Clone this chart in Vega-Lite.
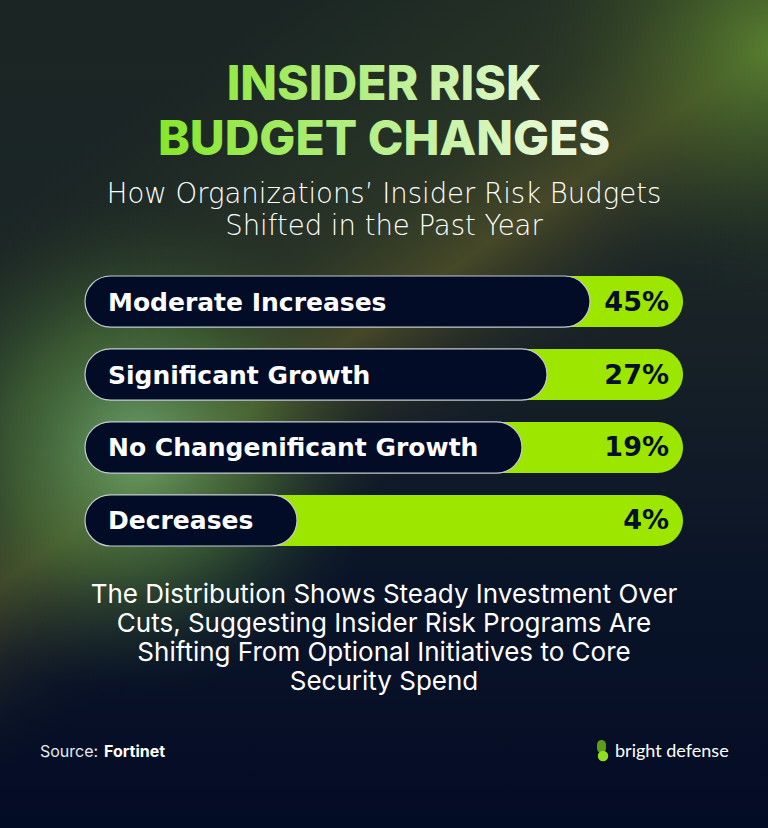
{
  "$schema": "https://vega.github.io/schema/vega-lite/v6.json",
  "width": 768,
  "height": 828,
  "autosize": {"type": "none"},
  "padding": 0,
  "background": "#030c25",
  "config": {"view": {"stroke": null}},
  "datasets": {
    "budget": [
      {"category": "Moderate Increases", "value": 45},
      {"category": "Significant Growth", "value": 27},
      {"category": "No Changenificant Growth", "value": 19},
      {"category": "Decreases", "value": 4}
    ]
  },
  "layer": [
    {
      "data": {"values": [{}]},
      "mark": {"type": "rect", "fill": {"gradient": "linear", "x1": 0, "y1": 0, "x2": 0, "y2": 1, "stops": [{"offset": 0, "color": "#1b2624"}, {"offset": 0.35, "color": "#1a2426"}, {"offset": 0.7, "color": "#0a1428"}, {"offset": 1, "color": "#030c25"}]}},
      "encoding": {"x": {"value": 0}, "x2": {"value": 768}, "y": {"value": 0}, "y2": {"value": 828}}
    },
    {
      "data": {"values": [{}]},
      "mark": {"type": "rect", "fill": {"gradient": "linear", "x1": 0.3, "y1": 0.05, "x2": 0.72, "y2": 0.7, "stops": [{"offset": 0, "color": "rgba(60,80,40,0)"}, {"offset": 0.35, "color": "rgba(70,80,40,0.35)"}, {"offset": 0.5, "color": "rgba(85,85,40,0.75)"}, {"offset": 0.6, "color": "rgba(70,70,40,0.35)"}, {"offset": 0.75, "color": "rgba(20,30,40,0)"}]}},
      "encoding": {"x": {"value": 0}, "x2": {"value": 768}, "y": {"value": 0}, "y2": {"value": 828}}
    },
    {
      "data": {"values": [{}]},
      "mark": {"type": "rect", "fill": {"gradient": "radial", "x1": 0.2, "y1": 0.54, "r1": 0, "x2": 0.2, "y2": 0.54, "r2": 0.3, "stops": [{"offset": 0, "color": "rgba(115,175,115,0.85)"}, {"offset": 0.5, "color": "rgba(80,130,60,0.5)"}, {"offset": 1, "color": "rgba(40,60,40,0)"}]}},
      "encoding": {"x": {"value": 0}, "x2": {"value": 768}, "y": {"value": 0}, "y2": {"value": 828}}
    },
    {
      "data": {"values": [{}]},
      "mark": {"type": "rect", "fill": {"gradient": "radial", "x1": 0.97, "y1": 0.06, "r1": 0, "x2": 0.97, "y2": 0.06, "r2": 0.3, "stops": [{"offset": 0, "color": "rgba(90,140,50,0.8)"}, {"offset": 0.5, "color": "rgba(70,100,40,0.45)"}, {"offset": 1, "color": "rgba(40,60,40,0)"}]}},
      "encoding": {"x": {"value": 0}, "x2": {"value": 768}, "y": {"value": 0}, "y2": {"value": 828}}
    },
    {
      "data": {"values": [{"line": "INSIDER RISK\nBUDGET CHANGES"}]},
      "mark": {"type": "text", "align": "center", "baseline": "alphabetic", "lineBreak": "\n", "lineHeight": 55, "font": "Inter", "fontWeight": 800, "fontSize": 48, "fill": {"gradient": "linear", "x1": 0, "y1": 0, "x2": 1, "y2": 0, "stops": [{"offset": 0, "color": "#86e628"}, {"offset": 0.45, "color": "#b4ee86"}, {"offset": 1, "color": "#f3fbea"}]}},
      "encoding": {"x": {"value": 384}, "y": {"value": 100}, "text": {"field": "line", "type": "nominal"}}
    },
    {
      "data": {"values": [{"line": "How Organizations’ Insider Risk Budgets\nShifted in the Past Year"}]},
      "mark": {"type": "text", "align": "center", "baseline": "alphabetic", "lineBreak": "\n", "lineHeight": 32, "font": "DejaVu Sans", "fontWeight": 200, "fontSize": 27.5, "color": "#ffffff"},
      "encoding": {"x": {"value": 384}, "y": {"value": 203}, "text": {"field": "line", "type": "nominal"}}
    },
    {
      "data": {"name": "budget"},
      "mark": {"type": "bar", "cornerRadius": 25.5, "color": "#9de600"},
      "encoding": {
        "y": {"field": "category", "type": "nominal", "sort": null, "axis": null, "scale": {"range": [276, 546], "paddingInner": 0.3, "paddingOuter": 0}},
        "x": {"datum": 0, "type": "quantitative", "axis": null, "scale": {"type": "linear", "domain": [0, 4, 19, 27, 45, 100], "range": [85, 297, 522, 547, 590, 683]}},
        "x2": {"datum": 100}
      }
    },
    {
      "data": {"name": "budget"},
      "mark": {"type": "bar", "cornerRadius": 25.5, "color": "#020c27", "stroke": "#c4c9d0", "strokeWidth": 1.2},
      "encoding": {
        "y": {"field": "category", "type": "nominal", "sort": null, "axis": null},
        "x": {"field": "value", "type": "quantitative", "axis": null},
        "x2": {"datum": 0}
      }
    },
    {
      "data": {"name": "budget"},
      "mark": {"type": "text", "align": "left", "baseline": "middle", "dx": 23, "dy": 1, "font": "DejaVu Sans", "fontWeight": "bold", "fontSize": 25, "color": "#ffffff"},
      "encoding": {
        "y": {"field": "category", "type": "nominal", "sort": null, "axis": null},
        "x": {"datum": 0, "type": "quantitative", "axis": null},
        "text": {"field": "category", "type": "nominal"}
      }
    },
    {
      "data": {"name": "budget"},
      "transform": [{"calculate": "datum.value + '%'", "as": "pct"}],
      "mark": {"type": "text", "align": "right", "baseline": "middle", "dx": -14, "dy": 1, "font": "DejaVu Sans", "fontWeight": "bold", "fontSize": 27, "color": "#041029"},
      "encoding": {
        "y": {"field": "category", "type": "nominal", "sort": null, "axis": null},
        "x": {"datum": 100, "type": "quantitative", "axis": null},
        "text": {"field": "pct", "type": "nominal"}
      }
    },
    {
      "data": {"values": [{"line": "The Distribution Shows Steady Investment Over\nCuts, Suggesting Insider Risk Programs Are\nShifting From Optional Initiatives to Core\nSecurity Spend"}]},
      "mark": {"type": "text", "align": "center", "baseline": "alphabetic", "lineBreak": "\n", "lineHeight": 29, "font": "Inter", "fontWeight": 400, "fontSize": 26, "color": "#ffffff"},
      "encoding": {"x": {"value": 384}, "y": {"value": 603}, "text": {"field": "line", "type": "nominal"}}
    },
    {
      "data": {"values": [{"t": "Source:"}]},
      "mark": {"type": "text", "align": "left", "baseline": "alphabetic", "font": "Inter", "fontSize": 16, "color": "#e8e8ee"},
      "encoding": {"x": {"value": 40}, "y": {"value": 757}, "text": {"field": "t", "type": "nominal"}}
    },
    {
      "data": {"values": [{"t": "Fortinet"}]},
      "mark": {"type": "text", "align": "left", "baseline": "alphabetic", "font": "Inter", "fontWeight": "bold", "fontSize": 16, "color": "#ffffff"},
      "encoding": {"x": {"value": 104}, "y": {"value": 757}, "text": {"field": "t", "type": "nominal"}}
    },
    {
      "data": {"values": [{"t": "bright defense"}]},
      "mark": {"type": "text", "align": "left", "baseline": "alphabetic", "font": "Lato", "fontSize": 18, "color": "#ffffff"},
      "encoding": {"x": {"value": 615}, "y": {"value": 757}, "text": {"field": "t", "type": "nominal"}}
    },
    {
      "data": {"values": [{}]},
      "mark": {"type": "rect", "cornerRadius": 5, "color": "#5e9c1c"},
      "encoding": {"x": {"value": 597}, "x2": {"value": 606}, "y": {"value": 740}, "y2": {"value": 753}}
    },
    {
      "data": {"values": [{}]},
      "mark": {"type": "point", "shape": "circle", "filled": true, "size": 110, "color": "#8fe01c", "opacity": 1},
      "encoding": {"x": {"value": 603}, "y": {"value": 756}}
    }
  ]
}
